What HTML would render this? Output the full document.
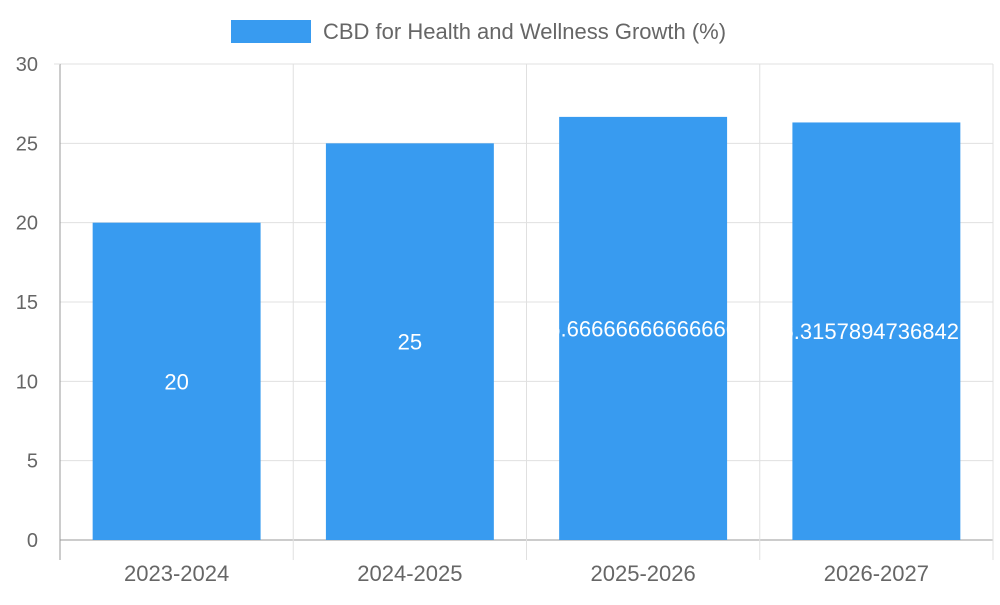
<!DOCTYPE html>
<html><head><meta charset="utf-8"><style>
body{margin:0;background:#fff;font-family:"Liberation Sans",sans-serif}
</style></head><body>
<svg id="c" width="1000" height="600"></svg>
<script>
const categories=["2023-2024","2024-2025","2025-2026","2026-2027"];
const values=[20,25,26.666666666666668,26.315789473684212];
const yTicks=[0,5,10,15,20,25,30];
const NS="http://www.w3.org/2000/svg",svg=document.getElementById("c");
const L=60,R=993,T=64,B=540,yMax=30;
const y=v=>B-(v/yMax)*(B-T);
const bw=(R-L)/categories.length;
const x=i=>L+bw*i;
function mk(t,a,p){const e=document.createElementNS(NS,t);for(const k in a)e.setAttribute(k,a[k]);(p||svg).appendChild(e);return e;}
// legend
const lg=mk("g",{});


mk("rect",{x:231,y:20,width:80,height:23,fill:"#389bf0"},lg);
const lt=mk("text",{x:323,y:39,"font-size":22,fill:"#666"},lg);lt.textContent="CBD for Health and Wellness Growth (%)";
// grid + y ticks
yTicks.forEach(v=>{
 const g=mk("line",{x1:L,x2:R,y1:y(v),y2:y(v),stroke:v===0?"#999":"#e0e0e0","stroke-width":1});
 
 
 const t=mk("text",{x:38,y:y(v)+7,"font-size":20,fill:"#666","text-anchor":"end"});t.textContent=v;
 
 
});
for(let i=0;i<=categories.length;i++){
 const g=mk("line",{x1:x(i),x2:x(i),y1:T,y2:B+20,stroke:i===0?"#999":"#e0e0e0"});
 
 
}
mk("line",{x1:L,x2:L-6,y1:T,y2:T,stroke:"#e0e0e0"});
categories.forEach((c,i)=>{
 const cx=x(i)+bw/2,w=bw*0.72;
 const r=mk("rect",{x:cx-w/2,y:y(values[i]),width:w,height:B-y(values[i]),fill:"#389bf0"});
 
 
 const vl=mk("text",{x:cx,y:(y(values[i])+B)/2+8,"font-size":22,fill:"#fff","text-anchor":"middle"});vl.textContent=String(values[i]);
 
 
 const t=mk("text",{x:cx,y:581,"font-size":22,fill:"#666","text-anchor":"middle"});t.textContent=c;
 
 
});
</script>
</body></html>
